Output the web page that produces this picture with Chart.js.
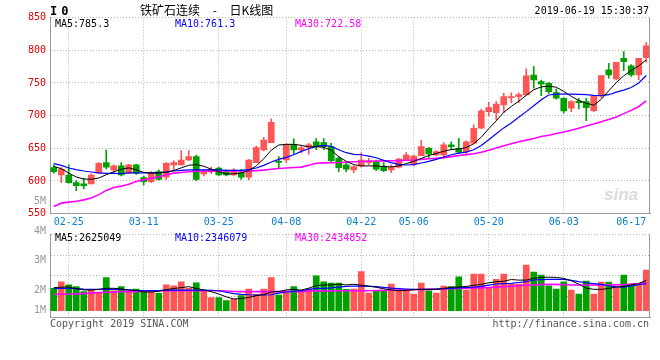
<!DOCTYPE html>
<html><head><meta charset="utf-8">
<script src="https://cdn.jsdelivr.net/npm/chart.js@4.4.1/dist/chart.umd.min.js"></script>
<style>
html,body{margin:0;padding:0;background:#fff;}
#wrap{position:relative;width:660px;height:360px;overflow:hidden;font-family:"DejaVu Sans Mono",monospace;font-size:10px;}
.t{position:absolute;white-space:pre;line-height:12px;}
canvas{position:absolute;left:0;}
</style></head><body>
<div id="wrap">
<div class="t" style="left:604px;top:186px;font-family:'Liberation Sans',sans-serif;font-style:italic;font-weight:bold;font-size:17px;line-height:18px;color:#dcdcdc">sina</div>
<canvas id="pc" width="660" height="232" style="top:0;width:660px;height:232px"></canvas>
<canvas id="vc" width="660" height="140" style="top:190px;width:660px;height:140px"></canvas>
<div class="t" style="left:50px;top:4px;font-weight:bold;font-size:12px;letter-spacing:4px;line-height:14px">I0</div>
<div class="t" style="left:140px;top:3px;font-family:'Noto Sans CJK SC',sans-serif;font-size:12px;line-height:14px;word-spacing:10px">铁矿石连续 - 日K线图</div>
<div class="t" style="right:11px;top:5px;color:#000">2019-06-19 15:30:37</div>
<div class="t" style="left:55px;top:18px;color:#000">MA5:785.3</div>
<div class="t" style="left:175px;top:18px;color:#0000ff">MA10:761.3</div>
<div class="t" style="left:295px;top:18px;color:#ff00ff">MA30:722.58</div>
<div class="t" style="left:55px;top:232px;color:#000">MA5:2625049</div>
<div class="t" style="left:175px;top:232px;color:#0000ff">MA10:2346079</div>
<div class="t" style="left:295px;top:232px;color:#ff00ff">MA30:2434852</div>
<div class="t" style="left:50px;top:318px;color:#555">Copyright 2019 SINA.COM</div>
<div class="t" style="right:11px;top:318px;color:#555">http://finance.sina.com.cn</div>
</div>
<script>
const dates = ['02-21','02-22','02-25','02-26','02-27','02-28','03-01','03-04','03-05','03-06','03-07','03-08','03-11','03-12','03-13','03-14','03-15','03-18','03-19','03-20','03-21','03-22','03-25','03-26','03-27','03-28','03-29','04-01','04-02','04-03','04-04','04-08','04-09','04-10','04-11','04-12','04-15','04-16','04-17','04-18','04-19','04-22','04-23','04-24','04-25','04-26','04-29','04-30','05-06','05-07','05-08','05-09','05-10','05-13','05-14','05-15','05-16','05-17','05-20','05-21','05-22','05-23','05-24','05-27','05-28','05-29','05-30','05-31','06-03','06-04','06-05','06-06','06-10','06-11','06-12','06-13','06-14','06-17','06-18','06-19'];
const axisDates = ['02-25','03-11','03-25','04-08','04-22','05-06','05-20','06-03','06-17'];
const priceTicks = [550,600,650,700,750,800,850];
const volLabels = ['5M','4M','3M','2M','1M'];

const opens  = [620.3,609.1,609.1,597.4,595.4,595.4,611.7,628.0,616.8,623.0,611.7,624.5,605.0,598.9,614.2,605.6,624.5,624.5,632.1,637.2,610.7,613.7,619.6,615.7,609.1,612.7,605.6,628.0,647.6,658.6,629.5,632.1,655.1,647.5,651.6,660.0,658.6,652.5,634.7,624.5,616.8,623.0,628.0,629.5,621.9,616.8,620.9,632.1,626.0,638.7,650.0,639.7,639.7,655.1,650.0,644.8,657.7,680.6,706.0,704.5,716.3,727.5,729.0,731.6,762.2,752.0,749.5,735.1,726.5,711.2,722.4,721.3,707.6,730.0,769.9,756.1,787.8,776.0,762.2,788.7];
const highs  = [624.5,620.3,624.5,600.4,604.0,611.0,628.0,647.4,624.5,628.0,625.5,625.5,607.6,614.2,617.0,628.0,631.0,646.4,646.4,639.7,617.0,621.3,621.3,617.0,619.0,617.9,633.1,653.5,666.9,694.9,637.2,657.0,664.3,654.0,657.7,665.0,665.0,657.7,637.2,627.0,623.0,643.0,634.7,632.0,628.0,624.5,634.7,643.3,639.7,662.7,651.5,646.3,658.6,660.0,665.3,661.5,685.7,709.6,720.4,721.3,734.2,735.0,735.0,771.4,774.9,754.5,751.0,741.0,727.5,722.9,726.5,726.5,731.0,761.2,780.1,781.6,797.9,778.0,787.8,812.2];
const lows   = [611.7,597.4,596.5,585.1,587.7,595.4,611.7,618.3,611.7,607.6,611.7,610.0,593.9,597.4,601.0,602.5,615.7,624.5,631.0,600.4,607.6,611.2,608.0,607.6,608.0,602.5,601.5,628.0,645.9,658.6,619.4,628.0,640.8,643.0,640.8,648.0,648.0,629.5,614.2,614.2,612.7,621.0,624.5,615.7,614.2,612.7,620.0,631.0,623.0,638.7,634.7,638.2,634.7,647.6,642.4,642.0,657.7,680.0,699.4,693.3,704.5,719.8,719.8,731.6,741.8,730.5,734.0,725.0,703.6,706.0,710.2,692.3,706.0,727.0,757.1,754.5,768.8,760.0,754.5,781.6];
const closes = [614.2,618.3,597.4,592.8,592.8,609.1,627.1,620.9,623.0,609.1,624.5,611.7,598.9,612.7,602.5,627.1,628.0,632.1,637.2,602.5,614.2,617.8,609.1,609.1,616.8,605.6,632.1,651.0,662.7,689.8,628.5,655.1,647.6,650.5,655.1,652.5,652.5,631.0,620.3,617.9,621.9,632.0,631.0,617.9,615.7,620.9,633.6,639.7,638.2,652.5,641.3,644.8,655.1,652.5,643.9,660.0,680.6,707.1,712.1,717.8,729.0,729.0,732.0,760.7,754.5,748.0,736.6,726.5,707.1,721.3,719.8,712.1,730.0,761.2,762.2,781.6,782.6,762.2,787.8,806.6];

const ma5  = [622.3,618.8,612.0,606.0,603.0,602.5,604.5,609.5,614.0,618.0,620.0,617.0,613.0,612.0,612.5,613.5,616.0,620.0,624.0,625.0,622.5,618.0,614.0,610.5,611.0,612.0,616.0,623.0,634.0,647.0,655.0,656.0,656.0,654.5,652.0,652.5,651.5,647.0,637.0,630.0,625.0,623.0,623.0,623.0,622.0,621.5,623.0,626.5,630.0,634.5,639.0,642.0,645.5,648.0,649.0,651.0,657.0,667.0,680.0,692.0,705.0,714.0,722.0,731.0,739.5,744.0,745.0,743.5,737.0,729.5,723.0,719.0,716.0,725.0,738.0,750.5,761.0,769.0,776.0,785.3];
const ma10 = [626.4,623.9,619.8,617.3,615.2,613.7,612.2,611.7,611.7,611.2,612.2,612.2,612.2,612.2,612.2,613.7,615.2,616.2,616.8,616.8,616.8,616.8,616.8,616.2,616.2,616.2,617.3,619.8,623.9,628.9,633.0,636.1,640.1,645.2,649.2,652.8,654.3,652.8,647.7,643.2,640.6,640.1,638.1,635.5,631.5,627.9,625.4,624.4,624.9,627.4,630.0,633.0,636.6,640.1,642.6,644.2,647.7,654.3,663.0,672.1,681.2,688.8,697.5,706.1,715.2,724.4,731.5,733.0,733.0,733.0,732.5,732.0,731.0,730.5,732.0,736.0,739.0,743.0,750.0,761.3];
const ma30 = [561,566,567.5,569,571,574,579,585.5,590,592,595,599,602,604,606.5,609.5,612,613,614,614.8,615.2,615.3,615.3,615.3,615.3,615.3,615.4,615.8,616.5,618,619,619.8,620.5,621.2,624,627,627.6,627.9,628.1,628.7,629.3,629.8,630.2,630.5,630.7,630.9,631.1,631.6,632.1,633,634,634.5,635.5,637.2,639,640.3,641.5,644,647,650.5,654,657,660,662.5,665,668,670,672.5,675,677.5,680.5,684,687,690.5,694,698,703,708,714,722.58];

// volume in millions of lots
const volumes = [1.94,2.51,2.25,2.08,1.65,1.85,1.59,2.86,1.73,2.08,1.68,1.88,1.65,1.59,1.51,2.25,2.16,2.51,1.94,2.42,1.68,1.13,1.13,0.87,0.99,1.30,1.88,1.42,1.88,2.86,1.36,1.71,2.08,1.65,1.88,3.03,2.51,2.40,2.40,1.85,1.88,3.38,1.53,1.73,1.73,2.31,1.73,1.73,1.45,2.40,1.73,1.53,2.14,2.08,2.94,1.79,3.18,3.18,2.03,2.72,3.18,2.31,2.31,3.96,3.35,3.09,2.16,1.88,2.51,1.79,1.45,2.57,1.45,2.48,2.48,1.97,3.09,2.23,2.23,3.52];
const vma5  = [2.00,2.03,2.06,1.90,1.80,1.79,1.85,1.94,1.94,1.87,1.79,1.75,1.62,1.62,1.68,1.82,1.92,2.00,2.08,1.92,1.80,1.65,1.45,1.20,1.02,1.05,1.15,1.30,1.40,1.62,1.66,1.80,1.85,1.78,1.95,2.18,2.23,2.23,2.30,2.23,2.29,2.20,2.14,2.03,1.90,1.80,1.73,1.75,1.82,1.85,1.85,1.85,1.93,2.03,2.05,2.10,2.20,2.28,2.42,2.51,2.55,2.70,2.65,2.65,2.80,2.89,2.90,2.88,2.80,2.60,2.30,1.95,1.85,1.85,1.92,2.05,2.10,2.25,2.35,2.625];
const vma10 = [1.90,1.94,1.94,1.92,1.86,1.85,1.85,1.85,1.85,1.85,1.80,1.75,1.73,1.73,1.75,1.79,1.79,1.79,1.79,1.79,1.79,1.77,1.73,1.60,1.48,1.42,1.38,1.36,1.36,1.38,1.52,1.62,1.68,1.73,1.85,1.94,1.94,1.98,2.05,2.10,2.14,2.12,2.10,2.08,2.02,1.96,1.92,1.88,1.85,1.85,1.85,1.87,1.90,1.94,1.98,2.02,2.05,2.10,2.22,2.31,2.34,2.37,2.44,2.51,2.66,2.69,2.72,2.72,2.72,2.62,2.51,2.42,2.35,2.28,2.14,2.06,2.03,2.14,2.25,2.346];
const vma30 = [1.42,1.43,1.44,1.45,1.50,1.53,1.57,1.59,1.62,1.65,1.65,1.65,1.68,1.72,1.73,1.73,1.73,1.73,1.73,1.73,1.73,1.73,1.73,1.70,1.66,1.65,1.65,1.65,1.65,1.65,1.65,1.65,1.65,1.65,1.68,1.72,1.72,1.70,1.73,1.73,1.73,1.73,1.73,1.75,1.76,1.77,1.79,1.80,1.82,1.84,1.85,1.86,1.88,1.90,1.92,1.94,1.96,1.98,2.01,2.04,2.08,2.12,2.16,2.20,2.23,2.26,2.29,2.28,2.25,2.23,2.23,2.23,2.23,2.23,2.23,2.24,2.25,2.30,2.36,2.435];

const UP = '#ff5555', DOWN = '#00a000';
const GRID = '#b4b4b4', AXIS = '#999999', XLAB = '#0a7fd0', YLAB = '#e00000', VLAB = '#999999';
const MONO = "'DejaVu Sans Mono', monospace";
const idx = dates.map((_, i) => i);
const colors = idx.map(i => closes[i] >= opens[i] ? UP : DOWN);
const pts = arr => idx.map(i => ({x: i, y: arr[i]}));
const lastTick = dates.indexOf(axisDates[axisDates.length - 1]);

const frame = {
  id: 'frame',
  afterDraw(chart) {
    const {ctx, chartArea: a} = chart;
    ctx.save();
    ctx.strokeStyle = AXIS; ctx.lineWidth = 1;
    ctx.beginPath();
    const x = Math.round(a.right) - 0.5;
    ctx.moveTo(x, a.top); ctx.lineTo(x, a.bottom);
    ctx.stroke();
    ctx.restore();
  }
};

function xScale(showLabels, height) {
  return {
    type: 'linear', min: -0.5, max: dates.length - 0.5, offset: false,
    afterBuildTicks: s => { s.ticks = axisDates.map(d => ({value: dates.indexOf(d)})); },
    afterFit: s => { s.height = height; },
    ticks: {display: showLabels, autoSkip: false, maxRotation: 0, minRotation: 0, padding: 3,
            color: XLAB, font: {family: MONO, size: 10}, callback: v => dates[v]},
    grid: {offset: false, drawTicks: false, lineWidth: 1,
           color: c => (c.tick && c.tick.value === lastTick) ? 'rgba(0,0,0,0)' : GRID},
    border: {display: true, color: AXIS, width: 1, dash: [1, 2]}
  };
}
function lineDs(arr, color, w) {
  return {type: 'line', data: pts(arr), borderColor: color, borderWidth: w, pointRadius: 0, tension: 0, fill: false, order: 0};
}

new Chart(document.getElementById('pc'), {
  type: 'bar',
  data: {datasets: [
    lineDs(ma5, '#000000', 1),
    lineDs(ma10, '#0000ff', 1.2),
    lineDs(ma30, '#ff00ff', 1.6),
    {type: 'bar', data: idx.map(i => ({x: i, y: [opens[i], closes[i]]})), backgroundColor: colors,
     barThickness: 6, minBarLength: 1, grouped: false, order: 1},
    {type: 'bar', data: idx.map(i => ({x: i, y: [lows[i], highs[i]]})), backgroundColor: colors,
     barThickness: 1, grouped: false, order: 2}
  ]},
  options: {
    responsive: false, animation: false, events: [],
    layout: {padding: {left: 0, right: 10, top: 17.6, bottom: 0}},
    plugins: {legend: {display: false}, tooltip: {enabled: false}},
    scales: {
      x: xScale(true, 232 - 213.6),
      y: {min: 550, max: 850, beginAtZero: false,
          afterBuildTicks: s => { s.ticks = priceTicks.map(v => ({value: v})); },
          afterFit: s => { s.width = 50; },
          ticks: {color: YLAB, font: {family: MONO, size: 10}, padding: 4},
          grid: {drawTicks: false, color: GRID, lineWidth: 1},
          border: {display: true, color: AXIS, width: 1, dash: [1, 2]}}
    }
  },
  plugins: [frame]
});

const volLabelPlugin = {
  id: 'volLabels',
  afterDraw(chart) {
    const {ctx, chartArea: a, scales: {y}} = chart;
    const base = y.getPixelForValue(0);
    ctx.save();
    ctx.font = '10px ' + MONO; ctx.fillStyle = VLAB;
    ctx.textAlign = 'right'; ctx.textBaseline = 'middle';
    volLabels.forEach((lab, k) => {
      let yy = a.top - 3.3 + (k - 1) * 29.7;
      if (yy > base) yy = base;
      ctx.fillText(lab, a.left - 4, yy);
    });
    ctx.restore();
  }
};

new Chart(document.getElementById('vc'), {
  type: 'bar',
  data: {datasets: [
    lineDs(vma5, '#000000', 1),
    lineDs(vma10, '#0000ff', 1.2),
    lineDs(vma30, '#ff00ff', 1.6),
    {type: 'bar', data: pts(volumes), backgroundColor: colors, barThickness: 6, grouped: false, order: 1}
  ]},
  options: {
    responsive: false, animation: false, events: [],
    layout: {padding: {left: 0, right: 10, top: 44.3, bottom: 12.7}},
    plugins: {legend: {display: false}, tooltip: {enabled: false}},
    scales: {
      x: xScale(false, 0),
      y: {min: -0.571, max: 6.615, beginAtZero: false,
          afterBuildTicks: s => { s.ticks = [0, 1, 2, 3, 4].map(k => ({value: s.min + (s.max - s.min) * k / 4})); },
          afterFit: s => { s.width = 50; },
          ticks: {display: false},
          grid: {drawTicks: false, color: GRID, lineWidth: 1},
          border: {display: true, color: AXIS, width: 1, dash: [1, 2]}}
    }
  },
  plugins: [frame, volLabelPlugin]
});
</script>
</body></html>
